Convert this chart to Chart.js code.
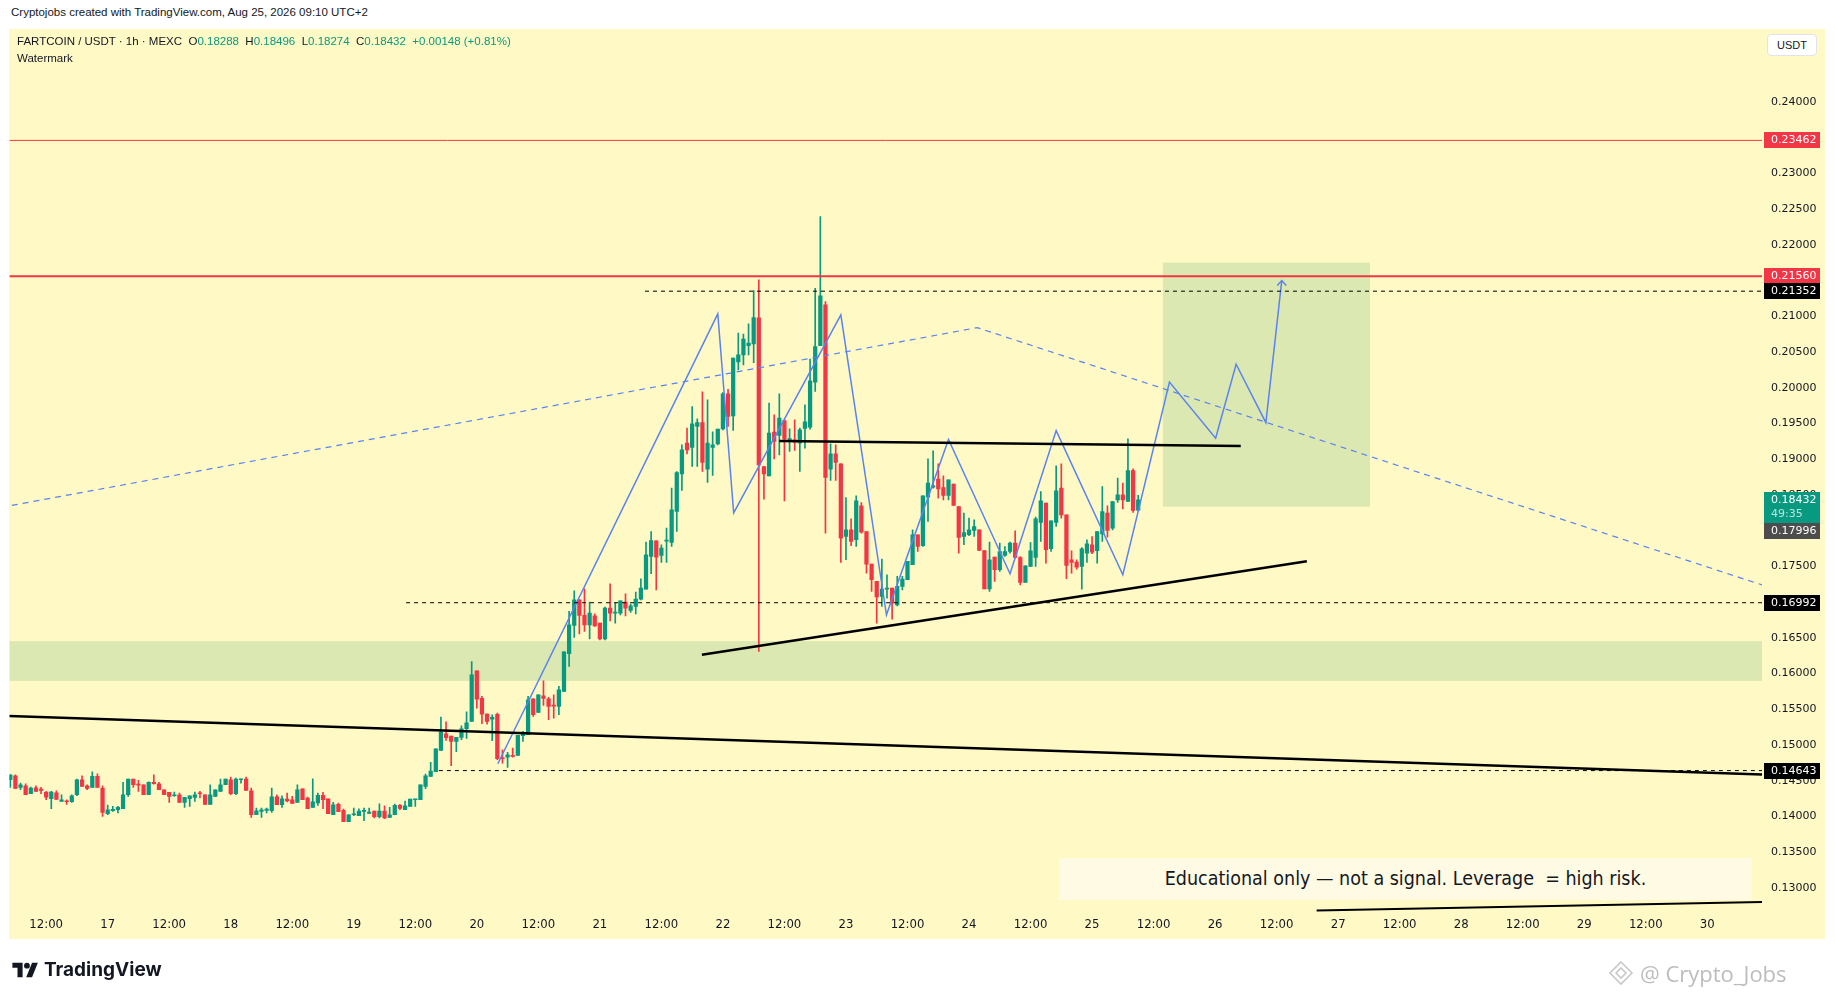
<!DOCTYPE html>
<html>
<head>
<meta charset="utf-8">
<title>FARTCOIN / USDT 1h</title>
<script src="https://cdn.jsdelivr.net/npm/chart.js@4.4.1/dist/chart.umd.min.js"></script>
<style>
  body { margin: 0; width: 1835px; height: 1000px; overflow: hidden; background: #fff; position: relative;
         font-family: 'Liberation Sans', Arial, sans-serif; color: #131722; }
  #header { position: absolute; left: 11px; top: 6px; font-size: 11.5px; }
  #panel { position: absolute; left: 9px; top: 29px; width: 1816px; height: 910px; background: #fff9c6; }
  #wrap { position: absolute; left: 0; top: 0; width: 1835px; height: 1000px; }
  #legend { position: absolute; left: 17px; top: 33px; font-size: 11.5px; line-height: 17px; }
  #legend .v { color: #089981; }
  #usdt { position: absolute; left: 1767px; top: 34px; width: 48px; height: 20px; background: #fff; border: 1px solid #e0e3eb;
          border-radius: 4px; font-size: 11px; line-height: 20px; text-align: center; }
  #note { position: absolute; left: 1059px; top: 858px; width: 693px; height: 42px; background: #fffae4; text-align: center;
          font-family: 'Liberation Sans Narrow', 'DejaVu Sans Condensed', sans-serif; font-size: 19.5px; line-height: 42px; }
  #logo { position: absolute; left: 12px; top: 958px; display: flex; align-items: center; gap: 5px;
          font-family: Inter, 'Liberation Sans', sans-serif; font-weight: 700; font-size: 19px; }
  #mark { position: absolute; left: 1608px; top: 958px; display: flex; align-items: center; gap: 6px;
          font-family: 'Open Sans', sans-serif; font-size: 22px; color: #bdbdbd; }
</style>
</head>
<body>
<div id="header">Cryptojobs created with TradingView.com, Aug 25, 2026 09:10 UTC+2</div>
<div id="panel"></div>
<div id="wrap"><canvas id="chart"></canvas></div>
<div id="legend"><span id="legendLine"></span><br>Watermark</div>
<div id="usdt">USDT</div>
<div id="note">Educational only — not a signal. Leverage &nbsp;= high risk.</div>
<div id="logo">
  <svg width="27" height="16" viewBox="0 0 36 22"><path d="M14 21H7V8H0V1h14z" fill="#131722"/><circle cx="20" cy="5" r="4" fill="#131722"/><path d="M27 21h-8l8-20h8z" fill="#131722"/></svg>
  <span>TradingView</span>
</div>
<div id="mark">
  <svg width="26" height="26" viewBox="0 0 26 26"><g fill="none" stroke="#c8c8c8" stroke-width="1.6"><path d="M13 2l11 11-11 11L2 13z"/><path d="M13 8l5 5-5 5-5-5z"/></g></svg>
  <span>@ Crypto_Jobs</span>
</div>
<script>
// Candles: 1h, first candle Aug 16 05:00 (x = hours since Aug 16 00:00)
const firstHour = 5;
const candleOpen = [
  0.14515, 0.14571, 0.14408, 0.14431, 0.14319, 0.14403, 0.14384, 0.14338, 0.14249, 0.14333,
  0.14212, 0.14221, 0.14207, 0.14305, 0.14515, 0.14431, 0.14408, 0.14562, 0.14398, 0.14039,
  0.14081, 0.14095, 0.14109, 0.14305, 0.14524, 0.14454, 0.14445, 0.14305, 0.14478, 0.14459,
  0.14375, 0.14338, 0.14291, 0.14305, 0.14198, 0.14249, 0.14268, 0.14328, 0.14305, 0.14170,
  0.14282, 0.14352, 0.14445, 0.14515, 0.14319, 0.14515, 0.14524, 0.14361, 0.14025, 0.14072,
  0.14086, 0.14081, 0.14277, 0.14165, 0.14244, 0.14235, 0.14198, 0.14389, 0.14259, 0.14128,
  0.14189, 0.14296, 0.14249, 0.14025, 0.14170, 0.14086, 0.13927, 0.14025, 0.14011, 0.14072,
  0.14044, 0.14077, 0.13997, 0.14077, 0.13988, 0.14025, 0.14156, 0.14095, 0.14142, 0.14235,
  0.14235, 0.14422, 0.14562, 0.14627, 0.14925, 0.15158, 0.15126, 0.15051, 0.15107, 0.15228,
  0.15331, 0.16040, 0.15653, 0.15434, 0.15364, 0.15429, 0.14823, 0.14832, 0.14855, 0.14855,
  0.15131, 0.15145, 0.15648, 0.15457, 0.15690, 0.15648, 0.15555, 0.15541, 0.15751, 0.16278,
  0.16674, 0.17033, 0.16814, 0.16683, 0.16809, 0.16707, 0.16487, 0.16917, 0.16847, 0.16847,
  0.17000, 0.16884, 0.16940, 0.17042, 0.17183, 0.17640, 0.17859, 0.17654, 0.17854, 0.17835,
  0.18269, 0.18796, 0.19225, 0.19164, 0.19458, 0.19514, 0.18861, 0.19164, 0.19216, 0.19426,
  0.19915, 0.19607, 0.20363, 0.20461, 0.20591, 0.20615, 0.20978, 0.18899, 0.18768, 0.19379,
  0.19332, 0.19542, 0.19262, 0.19272, 0.19225, 0.19430, 0.19449, 0.20078, 0.20591, 0.21160,
  0.18861, 0.19076, 0.18936, 0.17919, 0.18013, 0.17873, 0.18348, 0.17989, 0.17532, 0.17290,
  0.17080, 0.17183, 0.17197, 0.16963, 0.17220, 0.17313, 0.17523, 0.17943, 0.17789, 0.18469,
  0.18609, 0.18721, 0.18605, 0.18493, 0.18651, 0.18339, 0.17919, 0.17943, 0.18003, 0.18012,
  0.17723, 0.17187, 0.17630, 0.17453, 0.17653, 0.17709, 0.17826, 0.17625, 0.17276, 0.17499,
  0.17625, 0.18115, 0.18385, 0.17747, 0.18115, 0.18595, 0.18222, 0.17593, 0.17560, 0.17499,
  0.17686, 0.17803, 0.17719, 0.17956, 0.18246, 0.18036, 0.18432, 0.18502, 0.18409, 0.18842,
  0.18288
];
const candleHigh = [
  0.14585, 0.14585, 0.14468, 0.14459, 0.14412, 0.14431, 0.14408, 0.14352, 0.14352, 0.14361,
  0.14305, 0.14235, 0.14305, 0.14524, 0.14571, 0.14445, 0.14627, 0.14599, 0.14431, 0.14160,
  0.14142, 0.14142, 0.14478, 0.14524, 0.14524, 0.14506, 0.14445, 0.14487, 0.14585, 0.14478,
  0.14375, 0.14338, 0.14342, 0.14328, 0.14268, 0.14291, 0.14342, 0.14352, 0.14305, 0.14445,
  0.14375, 0.14524, 0.14524, 0.14552, 0.14538, 0.14524, 0.14552, 0.14398, 0.14119, 0.14119,
  0.14119, 0.14398, 0.14305, 0.14291, 0.14328, 0.14282, 0.14445, 0.14389, 0.14272, 0.14529,
  0.14328, 0.14338, 0.14249, 0.14198, 0.14189, 0.14105, 0.14025, 0.14119, 0.14109, 0.14119,
  0.14119, 0.14077, 0.14179, 0.14151, 0.14128, 0.14175, 0.14170, 0.14217, 0.14244, 0.14244,
  0.14445, 0.14594, 0.14757, 0.14949, 0.15392, 0.15326, 0.15126, 0.15107, 0.15270, 0.15466,
  0.16170, 0.16040, 0.15681, 0.15438, 0.15424, 0.15448, 0.14935, 0.14897, 0.14958, 0.15135,
  0.15191, 0.15681, 0.15648, 0.15704, 0.15900, 0.15667, 0.15704, 0.15821, 0.16306, 0.16870,
  0.17159, 0.17033, 0.17187, 0.17000, 0.16837, 0.16707, 0.16930, 0.17257, 0.16986, 0.17019,
  0.17117, 0.16972, 0.17140, 0.17327, 0.17840, 0.17989, 0.17859, 0.17803, 0.18036, 0.18595,
  0.18829, 0.19202, 0.19435, 0.19738, 0.19565, 0.19943, 0.19831, 0.19384, 0.19421, 0.19934,
  0.19980, 0.20414, 0.20764, 0.20750, 0.20894, 0.21361, 0.21510, 0.18899, 0.19785, 0.19621,
  0.19915, 0.19551, 0.19426, 0.19551, 0.19435, 0.19761, 0.20400, 0.21393, 0.22396, 0.21207,
  0.19216, 0.19202, 0.18936, 0.18465, 0.18167, 0.18488, 0.18395, 0.17989, 0.17532, 0.17290,
  0.17602, 0.17383, 0.17197, 0.17360, 0.17360, 0.17570, 0.18012, 0.17943, 0.18488, 0.19006,
  0.19118, 0.18936, 0.18768, 0.18712, 0.18651, 0.18339, 0.18246, 0.18176, 0.18152, 0.18012,
  0.17723, 0.17840, 0.17630, 0.17826, 0.17779, 0.17840, 0.17998, 0.17639, 0.17509, 0.17835,
  0.18190, 0.18549, 0.18385, 0.18138, 0.18908, 0.18936, 0.18222, 0.17719, 0.17593, 0.17765,
  0.17873, 0.17919, 0.17989, 0.18619, 0.18348, 0.18409, 0.18735, 0.18665, 0.19285, 0.18866,
  0.18496
];
const candleLow = [
  0.14408, 0.14394, 0.14375, 0.14305, 0.14319, 0.14352, 0.14319, 0.14235, 0.14109, 0.14240,
  0.14212, 0.14170, 0.14198, 0.14291, 0.14422, 0.14375, 0.14408, 0.14408, 0.14002, 0.14025,
  0.14072, 0.14049, 0.14109, 0.14282, 0.14408, 0.14352, 0.14305, 0.14305, 0.14454, 0.14375,
  0.14305, 0.14198, 0.14282, 0.14198, 0.14128, 0.14142, 0.14212, 0.14259, 0.14170, 0.14170,
  0.14282, 0.14352, 0.14445, 0.14305, 0.14305, 0.14468, 0.14366, 0.13988, 0.14025, 0.13988,
  0.14049, 0.14058, 0.14165, 0.14128, 0.14203, 0.14184, 0.14198, 0.14235, 0.14109, 0.14128,
  0.14156, 0.14109, 0.14039, 0.14025, 0.14067, 0.13927, 0.13927, 0.14011, 0.14011, 0.13941,
  0.14039, 0.13979, 0.13979, 0.13969, 0.13988, 0.14025, 0.14095, 0.14095, 0.14142, 0.14142,
  0.14235, 0.14389, 0.14562, 0.14627, 0.14925, 0.15065, 0.14711, 0.14907, 0.15075, 0.15093,
  0.15331, 0.15518, 0.15298, 0.15294, 0.15061, 0.14795, 0.14748, 0.14688, 0.14832, 0.14855,
  0.15051, 0.15145, 0.15401, 0.15457, 0.15555, 0.15354, 0.15378, 0.15424, 0.15751, 0.16100,
  0.16506, 0.16557, 0.16590, 0.16487, 0.16660, 0.16473, 0.16473, 0.16739, 0.16707, 0.16823,
  0.16809, 0.16856, 0.16837, 0.17033, 0.17183, 0.17397, 0.17173, 0.17556, 0.17556, 0.17779,
  0.17989, 0.18563, 0.19076, 0.18899, 0.18899, 0.18829, 0.18675, 0.18773, 0.19202, 0.19412,
  0.19458, 0.19402, 0.20251, 0.20321, 0.20461, 0.20353, 0.16311, 0.18442, 0.18768, 0.19006,
  0.19062, 0.18418, 0.19108, 0.19122, 0.18829, 0.19155, 0.19421, 0.19948, 0.20591, 0.17966,
  0.18703, 0.18703, 0.17556, 0.17593, 0.17789, 0.17780, 0.17966, 0.17407, 0.17150, 0.16707,
  0.16940, 0.17057, 0.16763, 0.16949, 0.17173, 0.17313, 0.17523, 0.17709, 0.17779, 0.18129,
  0.18595, 0.18455, 0.18432, 0.18432, 0.18353, 0.17686, 0.17803, 0.17929, 0.17919, 0.17723,
  0.17187, 0.17150, 0.17290, 0.17430, 0.17639, 0.17686, 0.17616, 0.17243, 0.17276, 0.17499,
  0.17499, 0.17849, 0.17546, 0.17709, 0.18059, 0.18176, 0.17327, 0.17406, 0.17462, 0.17182,
  0.17555, 0.17677, 0.17546, 0.17849, 0.17910, 0.18012, 0.18395, 0.18306, 0.18409, 0.18255,
  0.18274
];
const candleClose = [
  0.14585, 0.14394, 0.14445, 0.14305, 0.14398, 0.14352, 0.14366, 0.14272, 0.14342, 0.14240,
  0.14235, 0.14207, 0.14291, 0.14515, 0.14422, 0.14394, 0.14562, 0.14408, 0.14058, 0.14095,
  0.14100, 0.14128, 0.14305, 0.14524, 0.14445, 0.14440, 0.14305, 0.14478, 0.14459, 0.14375,
  0.14305, 0.14282, 0.14305, 0.14198, 0.14268, 0.14291, 0.14305, 0.14319, 0.14170, 0.14305,
  0.14375, 0.14445, 0.14524, 0.14319, 0.14524, 0.14524, 0.14366, 0.14025, 0.14081, 0.14095,
  0.14105, 0.14277, 0.14165, 0.14249, 0.14217, 0.14184, 0.14375, 0.14235, 0.14109, 0.14207,
  0.14296, 0.14235, 0.14039, 0.14165, 0.14067, 0.13927, 0.14025, 0.14039, 0.14077, 0.14081,
  0.14063, 0.13997, 0.14077, 0.13979, 0.14025, 0.14156, 0.14114, 0.14151, 0.14244, 0.14244,
  0.14445, 0.14571, 0.14636, 0.14949, 0.15182, 0.15102, 0.15051, 0.15107, 0.15228, 0.15312,
  0.15984, 0.15644, 0.15434, 0.15331, 0.15387, 0.14809, 0.14809, 0.14865, 0.14841, 0.15135,
  0.15168, 0.15634, 0.15424, 0.15704, 0.15653, 0.15541, 0.15546, 0.15774, 0.16306, 0.16683,
  0.17033, 0.16814, 0.16683, 0.16847, 0.16669, 0.16487, 0.16917, 0.16847, 0.16856, 0.17019,
  0.16917, 0.16949, 0.17042, 0.17196, 0.17663, 0.17863, 0.17630, 0.17756, 0.17863, 0.18292,
  0.18815, 0.19132, 0.19132, 0.19496, 0.19514, 0.18955, 0.19225, 0.19202, 0.19421, 0.19915,
  0.19598, 0.20414, 0.20461, 0.20680, 0.20624, 0.20983, 0.18922, 0.18796, 0.19365, 0.19248,
  0.19575, 0.19281, 0.19290, 0.19239, 0.19412, 0.19523, 0.20097, 0.20577, 0.21286, 0.18745,
  0.19076, 0.18955, 0.17896, 0.18013, 0.17849, 0.18418, 0.17980, 0.17532, 0.17313, 0.17072,
  0.17183, 0.17192, 0.16987, 0.17220, 0.17322, 0.17570, 0.17943, 0.17779, 0.18488, 0.18665,
  0.18628, 0.18586, 0.18493, 0.18712, 0.18353, 0.17905, 0.17975, 0.18012, 0.18059, 0.17723,
  0.17187, 0.17593, 0.17453, 0.17709, 0.17709, 0.17826, 0.17625, 0.17276, 0.17509, 0.17719,
  0.18166, 0.18418, 0.17733, 0.18138, 0.18558, 0.18222, 0.17513, 0.17555, 0.17490, 0.17747,
  0.17817, 0.17700, 0.17989, 0.18269, 0.18003, 0.18409, 0.18502, 0.18432, 0.18842, 0.18284,
  0.18432
];

// Axis ticks
const yTickValues = [0.130, 0.135, 0.140, 0.145, 0.150, 0.155, 0.160, 0.165, 0.170, 0.175, 0.180, 0.185,
                     0.190, 0.195, 0.200, 0.205, 0.210, 0.215, 0.220, 0.225, 0.230, 0.235, 0.240];
const xTickHours = [12, 24, 36, 48, 60, 72, 84, 96, 108, 120, 132, 144, 156, 168,
                    180, 192, 204, 216, 228, 240, 252, 264, 276, 288, 300, 312, 324, 336];
const xTickLabels = ['12:00', '17', '12:00', '18', '12:00', '19', '12:00', '20', '12:00', '21', '12:00', '22', '12:00', '23',
                     '12:00', '24', '12:00', '25', '12:00', '26', '12:00', '27', '12:00', '28', '12:00', '29', '12:00', '30'];

// Drawings
const redLevels = [0.23462, 0.21560];
const dashedLevels = [0.21352, 0.16992, 0.14643];
const dashedStarts = [128.8, 82.2, 88.6];
const longTrend = [[4.8, 0.15407], [346.7, 0.14589]];
const supportTrend = [[139.9, 0.16263], [257.9, 0.17572]];
const neckline = [[155.0, 0.19257], [245.0, 0.19187]];
const bottomTrend = [[259.8, 0.12686], [346.7, 0.12804]];
const blueDashHours = [5.3, 193.6, 346.7];
const blueDashPrices = [0.18354, 0.20842, 0.17241];
const zigzagHours = [100.1, 143.0, 146.1, 167.0, 175.9, 188.0, 200.0, 209.0, 222.0, 231.1, 240.1, 244.1, 249.9, 253.0];
const zigzagPrices = [0.14739, 0.21034, 0.18250, 0.21020, 0.16823, 0.19278, 0.17397, 0.19401, 0.17383, 0.20079,
                      0.19295, 0.20330, 0.19513, 0.21500];
const demandZone = [0.15898, 0.16455];
const targetBox = { from: 229.8, to: 270.2, low: 0.18338, high: 0.21752 };

// Price scale tags
const tagValues = [0.23462, 0.21560, 0.21352, 0.18432, 0.17996, 0.16992, 0.14643];
const tagColors = ['#f23645', '#f23645', '#000000', '#089981', '#4d4d4d', '#000000', '#000000'];
const countdown = '49:35';

const X_MIN = 4.83, X_MAX = 346.67;
const GREEN = '#089981', RED = '#f23645', BLUE = '#5a83f2';

// legend line from the last candle
const last = candleClose.length - 1;
const chg = candleClose[last] - candleClose[last - 1];
document.getElementById('legendLine').innerHTML =
  'FARTCOIN / USDT · 1h · MEXC&nbsp;&nbsp;O<span class="v">' + candleOpen[last].toFixed(5) +
  '</span>&nbsp;&nbsp;H<span class="v">' + candleHigh[last].toFixed(5) +
  '</span>&nbsp;&nbsp;L<span class="v">' + candleLow[last].toFixed(5) +
  '</span>&nbsp;&nbsp;C<span class="v">' + candleClose[last].toFixed(5) +
  '</span>&nbsp;&nbsp;<span class="v">+' + chg.toFixed(5) + ' (+' + (chg / candleClose[last - 1] * 100).toFixed(2) + '%)</span>';

const hours = candleOpen.map((_, i) => firstHour + i);
const candleColors = candleOpen.map((o, i) => candleClose[i] >= o ? GREEN : RED);

function segment(points, color, width, dash) {
  return {
    type: 'line',
    data: points.map(p => ({ x: p[0], y: p[1] })),
    borderColor: color,
    borderWidth: width,
    borderDash: dash || [],
    pointRadius: 0,
    fill: false,
    tension: 0,
    order: 1
  };
}

const lineSets = [];
redLevels.forEach((v, i) => lineSets.push(segment([[X_MIN, v], [X_MAX, v]], RED, i === 0 ? 1 : 2)));
dashedLevels.forEach((v, i) => lineSets.push(segment([[dashedStarts[i], v], [X_MAX, v]], '#000', 1, [4, 4])));
lineSets.push(segment(longTrend, '#000', 2.5));
lineSets.push(segment(supportTrend, '#000', 2.5));
lineSets.push(segment(neckline, '#000', 2.5));
lineSets.push(segment(bottomTrend, '#000', 2));
lineSets.push(segment(blueDashHours.map((h, i) => [h, blueDashPrices[i]]), BLUE, 1.2, [6, 5]));
lineSets.push(segment(zigzagHours.map((h, i) => [h, zigzagPrices[i]]), BLUE, 1.5));

// zones under the candles
const zonesPlugin = {
  id: 'zones',
  beforeDatasetsDraw(chart) {
    const { ctx, chartArea, scales: { x, y } } = chart;
    ctx.save();
    ctx.beginPath();
    ctx.rect(chartArea.left, chartArea.top, chartArea.width, chartArea.height);
    ctx.clip();
    ctx.fillStyle = '#dce8b1';
    const zt = y.getPixelForValue(demandZone[1]), zb = y.getPixelForValue(demandZone[0]);
    ctx.fillRect(chartArea.left, zt, chartArea.width, zb - zt);
    const bl = x.getPixelForValue(targetBox.from), br = x.getPixelForValue(targetBox.to);
    const bt = y.getPixelForValue(targetBox.high), bb = y.getPixelForValue(targetBox.low);
    ctx.fillRect(bl, bt, br - bl, bb - bt);
    ctx.restore();
  },
  afterDatasetsDraw(chart) {
    // arrow head at the end of the projection
    const { ctx, scales: { x, y } } = chart;
    const n = zigzagHours.length - 1;
    const px = x.getPixelForValue(zigzagHours[n]), py = y.getPixelForValue(zigzagPrices[n]);
    ctx.save();
    ctx.strokeStyle = BLUE;
    ctx.lineWidth = 1.5;
    ctx.beginPath();
    ctx.moveTo(px - 4.5, py + 5);
    ctx.lineTo(px, py);
    ctx.lineTo(px + 4.5, py + 5);
    ctx.stroke();
    ctx.restore();
  }
};

// coloured price tags on the right scale
const tagsPlugin = {
  id: 'tags',
  afterDraw(chart) {
    const { ctx, chartArea, scales: { y } } = chart;
    const left = chartArea.right + 2, w = 56;
    ctx.save();
    ctx.font = '11px "DejaVu Sans", sans-serif';
    ctx.textBaseline = 'middle';
    tagValues.forEach((v, i) => {
      const py = Math.round(y.getPixelForValue(v));
      const h = tagColors[i] === GREEN ? 31 : 16;
      ctx.fillStyle = tagColors[i];
      ctx.fillRect(left, py - 8, w, h);
      ctx.fillStyle = '#fff';
      ctx.fillText(v.toFixed(5), chartArea.right + 9, py + 0.5);
      if (tagColors[i] === GREEN) {
        ctx.fillStyle = '#b9e6dc';
        ctx.fillText(countdown, chartArea.right + 9, py + 14);
      }
    });
    ctx.restore();
  }
};

new Chart(document.getElementById('chart'), {
  type: 'bar',
  data: {
    datasets: [
      {
        label: 'wick',
        data: hours.map((h, i) => ({ x: h, y: [candleLow[i], candleHigh[i]] })),
        backgroundColor: candleColors,
        barThickness: 1,
        grouped: false,
        order: 10
      },
      {
        label: 'body',
        data: hours.map((h, i) => ({ x: h, y: [candleOpen[i], candleClose[i]] })),
        backgroundColor: candleColors,
        barThickness: 3.6,
        minBarLength: 1,
        grouped: false,
        order: 9
      },
      ...lineSets
    ]
  },
  options: {
    responsive: true,
    maintainAspectRatio: false,
    animation: false,
    events: [],
    layout: { padding: { left: 9.4, top: 29, right: 9, bottom: 62 } },
    plugins: { legend: { display: false }, tooltip: { enabled: false } },
    scales: {
      x: {
        type: 'linear',
        min: X_MIN,
        max: X_MAX,
        offset: false,
        grid: { display: false, drawTicks: false },
        border: { display: false },
        afterBuildTicks: axis => { axis.ticks = xTickHours.map(v => ({ value: v })); },
        afterFit: axis => { axis.height = 25; },
        ticks: {
          autoSkip: false,
          maxRotation: 0,
          padding: 4,
          color: '#131722',
          font: { family: "'Liberation Sans Narrow', 'DejaVu Sans Condensed', sans-serif", size: 13 },
          callback: v => xTickLabels[xTickHours.indexOf(v)]
        }
      },
      y: {
        position: 'right',
        min: 0.1265,
        max: 0.25021,
        grid: { display: false, drawTicks: false },
        border: { display: false },
        afterBuildTicks: axis => { axis.ticks = yTickValues.map(v => ({ value: v })); },
        afterFit: axis => { axis.width = 64; },
        ticks: {
          autoSkip: false,
          padding: 9,
          color: '#131722',
          font: { family: "'DejaVu Sans', sans-serif", size: 11 },
          callback: v => v.toFixed(5)
        }
      }
    }
  },
  plugins: [zonesPlugin, tagsPlugin]
});
</script>
</body>
</html>
